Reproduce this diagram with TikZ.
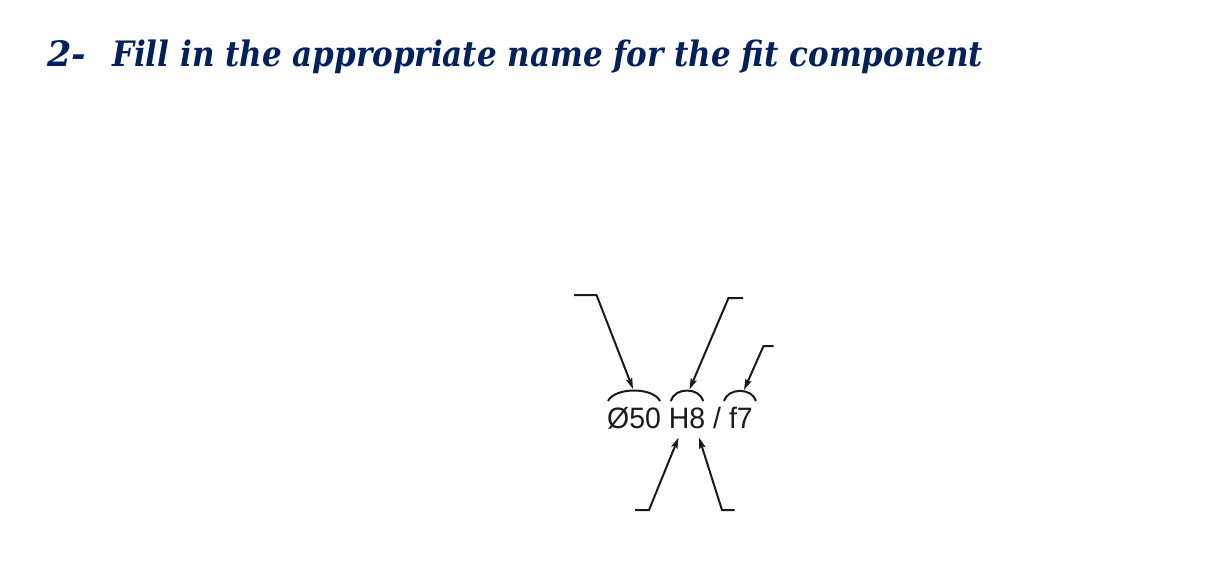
\documentclass[tikz,border=0pt]{standalone}
\usepackage{fontspec}
\usepackage{graphicx}
\usetikzlibrary{arrows.meta}
\newfontfamily\titlefont{DejaVu Serif}
\newfontfamily\dimfont{Liberation Sans}
\definecolor{navy}{HTML}{002060}
\definecolor{ink}{HTML}{1A1A1A}
\begin{document}
\begin{tikzpicture}[x=1pt,y=-1pt,
  leader/.style={draw=ink, line width=2pt, line join=miter, -{Stealth[length=11pt,width=6.5pt,inset=2pt]}},
  arcline/.style={draw=ink, line width=2pt},
  titletext/.style={anchor=base west, inner sep=0pt, text=navy}]
\useasboundingbox (0,0) rectangle (1217,587);
\node[titletext, font=\titlefont\bfseries\itshape\fontsize{35}{40}\selectfont] (num) at (47,66) {2-};
\node[titletext] (title) at (112,66) {\resizebox{871pt}{\height}{\titlefont\bfseries\itshape\fontsize{35}{40}\selectfont Fill in the appropriate name for the fit component}};
\node[anchor=base west, inner sep=0pt, text=ink, font=\dimfont\fontsize{29.5}{32}\selectfont] (fit) at (607,428.5) {\scalebox{0.965}[1]{Ø50 H8 / f7}};
% arcs
\draw[arcline] (608,401) .. controls (615,387) and (653,387) .. (660,401);
\draw[arcline] (670.7,401) .. controls (675,387) and (699,387) .. (703.3,401);
\draw[arcline] (724,401) .. controls (728,387.5) and (752,387.5) .. (756,401);
% coordinates
\coordinate (l1s) at (574,295); \coordinate (l1k) at (596.5,295); \coordinate (t1) at (633,389);
\coordinate (l2s) at (743,298); \coordinate (l2k) at (728.5,298); \coordinate (t2) at (689.5,389.5);
\coordinate (l3s) at (773.5,346); \coordinate (l3k) at (763.5,346); \coordinate (t3) at (744,390);
\coordinate (l4s) at (635,510); \coordinate (l4k) at (649,510); \coordinate (t4) at (678.5,437.5);
\coordinate (l5s) at (734.5,510); \coordinate (l5k) at (722,510); \coordinate (t5) at (699,437.5);
\draw[leader] (l1s) -- (l1k) -- (t1);
\draw[leader] (l2s) -- (l2k) -- (t2);
\draw[leader] (l3s) -- (l3k) -- (t3);
\draw[leader] (l4s) -- (l4k) -- (t4);
\draw[leader] (l5s) -- (l5k) -- (t5);
\end{tikzpicture}
\end{document}
